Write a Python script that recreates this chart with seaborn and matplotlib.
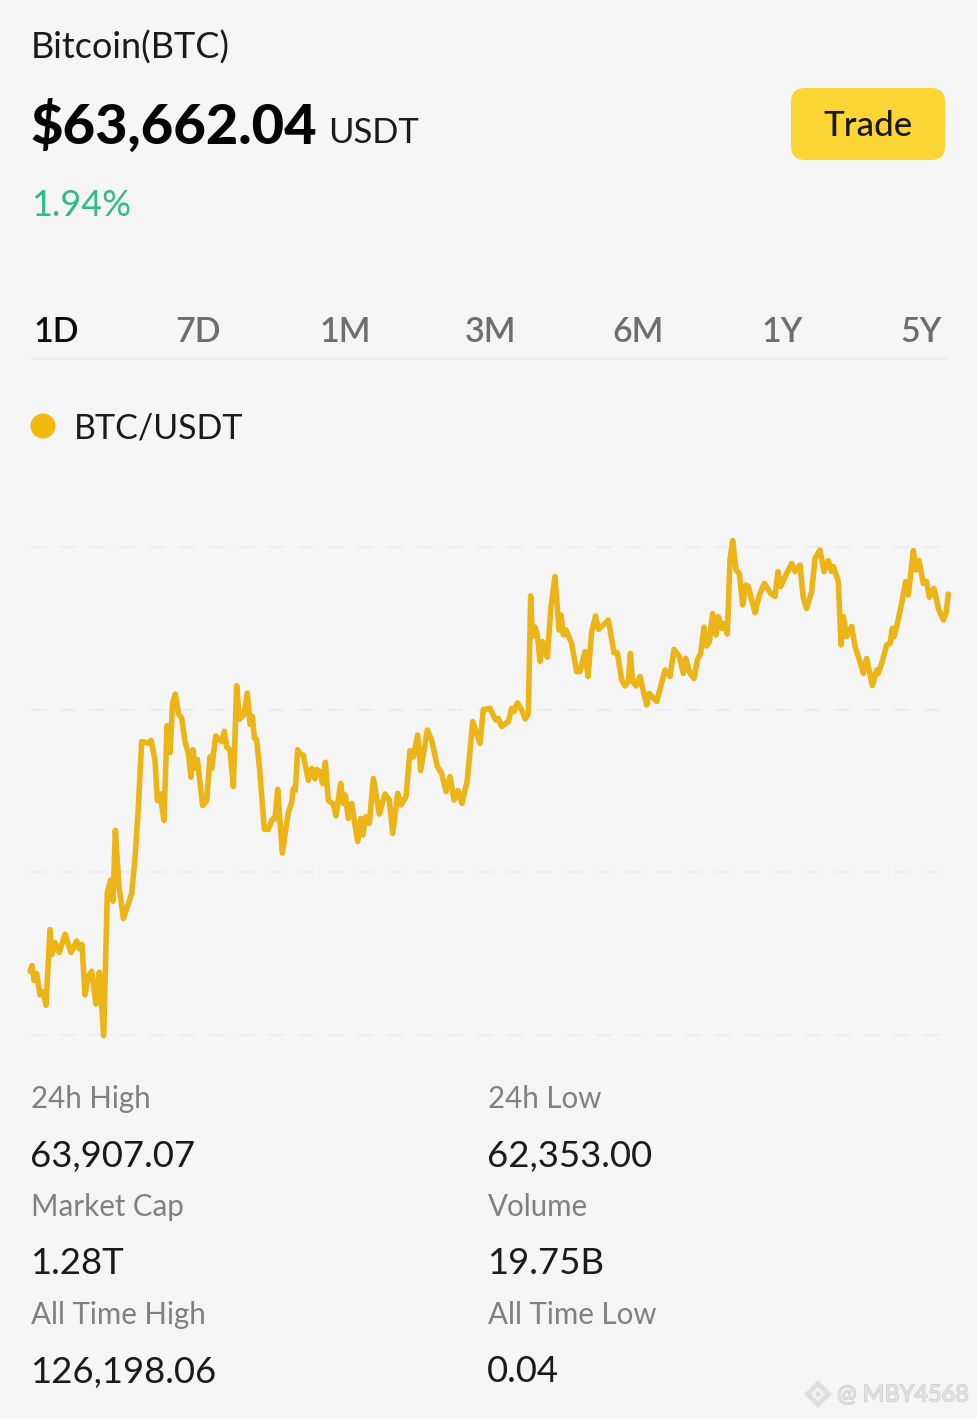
import numpy as np
import pandas as pd
import seaborn as sns
import matplotlib.pyplot as plt
from matplotlib.patches import FancyBboxPatch, Circle, Polygon
import matplotlib.patheffects as pe

sns.set_style('white')
plt.rcParams['font.family'] = ['Lato', 'DejaVu Sans']

# price line (x is just a running sample number)
steps_a = [0, 6, 12, 20, 30, 40, 48, 60, 66, 75, 88, 105, 123, 140, 148, 156, 165, 175, 185, 198, 208, 221, 232, 242, 249, 256, 267, 280, 295, 305, 315, 325, 335, 355, 363, 375, 382, 390, 402, 411, 420, 428, 436, 446, 455, 465, 475, 483, 489, 495, 502, 518, 530, 540, 545, 557, 575, 583, 590, 600, 610, 620, 628, 642, 652, 660, 667, 673, 680, 690, 703, 715, 727, 735, 743, 757, 775, 785, 790, 796, 803, 813, 820, 835, 845, 855, 860, 870, 878, 886, 895, 910]
price_a = [62554, 62572, 62524, 62547, 62478, 62489, 62445, 62687, 62608, 62646, 62614, 62673, 62614, 62651, 62626, 62640, 62478, 62538, 62554, 62449, 62551, 62348, 62806, 62846, 62778, 63005, 62825, 62723, 62770, 62802, 62916, 63078, 63289, 63284, 63293, 63230, 63100, 63122, 63036, 63340, 63254, 63414, 63441, 63376, 63365, 63289, 63252, 63175, 63263, 63203, 63232, 63084, 63100, 63240, 63203, 63307, 63289, 63322, 63271, 63263, 63145, 63468, 63360, 63376, 63444, 63344, 63370, 63300, 63295, 63187, 63008, 63008, 63041, 63041, 63136, 62932, 63062, 63094, 63138, 63133, 63263, 63246, 63246, 63165, 63203, 63170, 63200, 63192, 63154, 63223, 63100, 63089]

steps_b = [918, 932, 940, 946, 955, 965, 983, 992, 998, 1008, 1018, 1030, 1048, 1065, 1078, 1088, 1103, 1113, 1128, 1140, 1150, 1163, 1172, 1192, 1205, 1222, 1235, 1248, 1260, 1272, 1284, 1296, 1312, 1328, 1350, 1360, 1380, 1397, 1405, 1415, 1435, 1445, 1452, 1462, 1475, 1486, 1495, 1502, 1507, 1515, 1522, 1530, 1538, 1552, 1563, 1575, 1587, 1593, 1600, 1608, 1625, 1640, 1650, 1665, 1674, 1685, 1697, 1705, 1720, 1735, 1752, 1762, 1775, 1785, 1795, 1801, 1808, 1818]
price_b = [63051, 63155, 63091, 63118, 63043, 63091, 62969, 63043, 62990, 63049, 63027, 63171, 63057, 63121, 63102, 62995, 63123, 63086, 63113, 63260, 63239, 63310, 63196, 63326, 63294, 63209, 63187, 63129, 63177, 63102, 63132, 63091, 63166, 63353, 63283, 63392, 63395, 63358, 63363, 63337, 63353, 63395, 63385, 63413, 63390, 63361, 63379, 63755, 63625, 63655, 63630, 63545, 63609, 63559, 63721, 63817, 63646, 63694, 63630, 63646, 63603, 63513, 63513, 63577, 63497, 63641, 63691, 63648, 63662, 63678, 63573, 63573, 63486, 63467, 63481, 63571, 63481, 63467]

steps_c = [1830, 1850, 1858, 1880, 1905, 1920, 1932, 1948, 1960, 1967, 1980, 1992, 2002, 2012, 2022, 2030, 2038, 2048, 2058, 2065, 2075, 2082, 2092, 2100, 2108, 2118, 2128, 2138, 2148, 2155, 2175, 2188, 2203, 2222, 2235, 2244, 2252, 2270, 2285, 2295, 2310, 2320, 2330, 2345, 2355, 2370, 2382, 2395, 2405, 2410, 2425, 2433, 2440, 2450, 2465, 2475, 2490, 2500, 2510, 2527, 2540, 2545, 2555, 2570, 2580, 2587, 2592, 2600, 2615, 2627, 2635, 2650, 2658, 2667, 2680, 2690, 2698, 2712, 2725, 2740, 2748, 2755]
price_c = [63497, 63406, 63443, 63417, 63518, 63497, 63584, 63561, 63507, 63555, 63507, 63491, 63550, 63571, 63655, 63595, 63609, 63699, 63630, 63689, 63651, 63667, 63633, 63870, 63932, 63838, 63827, 63726, 63790, 63785, 63701, 63758, 63795, 63763, 63753, 63833, 63785, 63827, 63859, 63833, 63854, 63747, 63715, 63769, 63875, 63902, 63833, 63868, 63833, 63849, 63801, 63598, 63689, 63625, 63657, 63593, 63545, 63507, 63555, 63468, 63518, 63507, 63539, 63598, 63603, 63651, 63625, 63657, 63731, 63801, 63758, 63900, 63838, 63868, 63795, 63801, 63751, 63779, 63715, 63678, 63699, 63761]

grid_prices = [62350, 62870, 63390, 63910]
tab_labels = ['1D', '7D', '1M', '3M', '6M', '1Y', '5Y']
tab_x = [33, 175, 319, 465, 612, 761, 900]
stat_labels = ['24h High', '24h Low', 'Market Cap', 'Volume', 'All Time High', 'All Time Low']
stat_values = ['63,907.07', '62,353.00', '1.28T', '19.75B', '126,198.06', '0.04']

BG = '#F5F5F5'
W, H = 978, 1419
fig = plt.figure(figsize=(W / 100, H / 100), dpi=100, facecolor=BG)

# whole page axes in pixel coordinates for the text and the button
page = fig.add_axes([0, 0, 1, 1])
page.set_xlim(0, W)
page.set_ylim(H, 0)
page.axis('off')


def txt(x, y, s, size, color='#1A1A1A', **kw):
    page.text(x, y, s, fontsize=size * 0.72, color=color, va='center', ha=kw.pop('ha', 'left'), **kw)


txt(31, 48, 'Bitcoin(BTC)', 36)
txt(30, 126, '$63,662.04', 56, color='#050505', fontweight='black')
txt(328, 133, 'USDT', 34.5)
txt(31, 206, '1.94%', 36, color='#35B98A')

page.add_patch(FancyBboxPatch((803, 100), 130, 48, boxstyle='round,pad=12,rounding_size=14',
                              facecolor='#FCD535', edgecolor='none'))
txt(868, 126, 'Trade', 35, ha='center', fontweight='medium')

for i, (lab, x) in enumerate(zip(tab_labels, tab_x)):
    txt(x, 332, lab, 34, color='#0B0B0B' if i == 0 else '#6E6E6E', fontweight='semibold')
page.plot([30, 946], [358, 358], color='#EDEEF0', lw=2, solid_capstyle='butt')

page.add_patch(Circle((43, 426), 12.5, facecolor='#F0B90B', edgecolor='none'))
txt(74, 428, 'BTC/USDT', 34)

for i, (lab, val) in enumerate(zip(stat_labels, stat_values)):
    x = 31 if i % 2 == 0 else 488
    y = 1099 + 108 * (i // 2)
    txt(x, y, lab, 29.5, color='#808080')
    txt(x - 1, y + 57, val, 36.5)

# watermark
wm = dict(color='#E2E2E2', path_effects=[pe.withStroke(linewidth=0.9, foreground='#CBCBCB')])
txt(837, 1395, '@ MBY4568', 23.5, **wm)
page.add_patch(Polygon([(818, 1380), (832, 1394), (818, 1408), (804, 1394)], facecolor='#E0E0E0', edgecolor='none'))
page.add_patch(Polygon([(818, 1387), (825, 1394), (818, 1401), (811, 1394)], facecolor=BG, edgecolor='none'))
page.add_patch(Polygon([(818, 1391), (821, 1394), (818, 1397), (815, 1394)], facecolor='#D8D8D8', edgecolor='none'))

# chart area
ax = fig.add_axes([30 / W, 1 - 1035 / H, 916 / W, 487.5 / H])
ax.patch.set_alpha(0)
df = pd.DataFrame({'step': steps_a + steps_b + steps_c, 'price': price_a + price_b + price_c})
sns.lineplot(data=df, x='step', y='price', color='#EDB417', linewidth=4.0, sort=False, estimator=None,
             ax=ax, clip_on=False, solid_joinstyle='round')
ax.set_xlim(0, 2748)
ax.set_ylim(grid_prices[0], grid_prices[-1])
ax.set_yticks(grid_prices)
ax.set_xticks([])
ax.tick_params(left=False, labelleft=False)
ax.set_xlabel('')
ax.set_ylabel('')
ax.grid(axis='y', color='#E9ECF2', linewidth=1.3, linestyle=(0, (8.8, 7.7)), clip_on=False)
ax.set_axisbelow(True)
sns.despine(ax=ax, left=True, bottom=True)

fig.savefig('out.png', dpi=100, facecolor=BG)
